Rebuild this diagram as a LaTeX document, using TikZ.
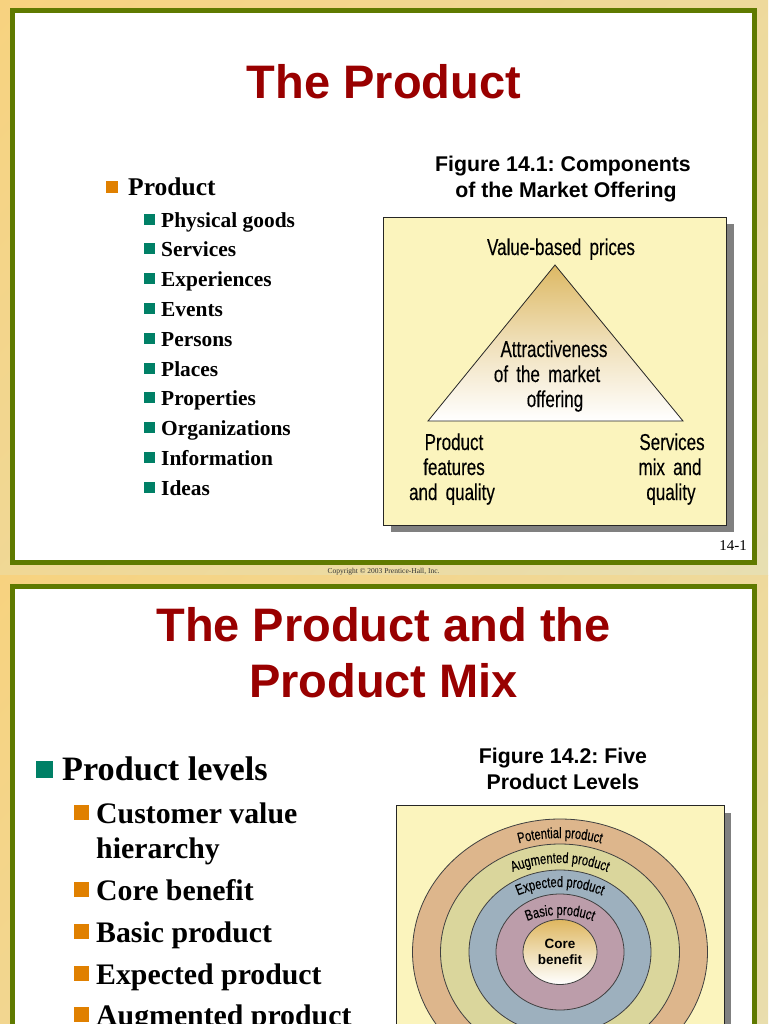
\documentclass[tikz,border=0pt]{standalone}
\usepackage{fontspec}
\usetikzlibrary{decorations.text}
\setmainfont{Liberation Serif}
\newfontfamily\hfont{Liberation Sans}
\newfontfamily\nfont[FakeStretch=0.74,FakeBold=0.25]{Liberation Sans}
\frenchspacing
\definecolor{framegreen}{HTML}{5F7A00}
\definecolor{titlered}{HTML}{990000}
\definecolor{bulorange}{HTML}{E08000}
\definecolor{bulteal}{HTML}{008066}
\definecolor{panel}{HTML}{FBF4BD}
\definecolor{ringa}{HTML}{DDB68C}
\definecolor{ringb}{HTML}{DAD69C}
\definecolor{ringc}{HTML}{9DB0BE}
\definecolor{ringd}{HTML}{BC9DAA}
\definecolor{tanc}{HTML}{DDB964}
\definecolor{HTMLa}{HTML}{FFCC66}
\definecolor{HTMLb}{HTML}{DFE5CB}
\newcommand{\widesp}{\spaceskip=8.2pt\relax}
\tikzset{
  sheet/.style={top color=HTMLa,bottom color=HTMLb,shading angle=45},
  frm/.style={draw=framegreen,line width=5pt,fill=white},
  ttl/.style={font=\hfont\bfseries\fontsize{47}{47}\selectfont,text=titlered,anchor=base,inner sep=0pt},
  capt/.style={font=\hfont\bfseries\fontsize{21.3}{21.3}\selectfont,anchor=base,inner sep=0pt},
  itemA/.style={font=\bfseries\fontsize{25.5}{25.5}\selectfont,anchor=base west,inner sep=0pt},
  itemB/.style={font=\bfseries\fontsize{21.4}{21.4}\selectfont,anchor=base west,inner sep=0pt},
  itemC/.style={font=\bfseries\fontsize{34.2}{34.2}\selectfont,anchor=base west,inner sep=0pt},
  itemD/.style={font=\bfseries\fontsize{29.8}{29.8}\selectfont,anchor=base west,inner sep=0pt},
  lab/.style={font=\nfont\fontsize{23}{23}\selectfont,execute at begin node=\widesp,anchor=base,inner sep=0pt},
  shadowbox/.style={fill=black!50,draw=none},
  panelbox/.style={fill=panel,draw=black!85,line width=.9pt},
  ring/.style={draw=black!75,line width=.8pt},
  ringtext/.style args={#1/#2}{decorate,decoration={text along path,text align=center,
     text={|\nfont\fontsize{#2}{#2}\selectfont|#1}}}
}
\begin{document}
\begin{tikzpicture}[x=1pt,y=-1pt]
\useasboundingbox (0,0) rectangle (768,1024);
\clip (0,0) rectangle (768,1024);
% backgrounds
\begin{scope}
\clip (0,0) rectangle (768,575);
\shade[sheet] (-702,-526) rectangle (1470,1101);
\end{scope}
\begin{scope}
\clip (0,575) rectangle (768,1024);
\shade[sheet] (-702,49) rectangle (1470,1676);
\end{scope}
% frames
\draw[frm] (12.5,10.5) rectangle (754.5,562.5);
\draw[frm] (12.5,586.5) rectangle (754.5,1138);
% ---- slide 1
\node[ttl] (t1) at (384,99) {The Product};
\node[capt] (c1a) at (563,171.5) {Figure 14.1: Components};
\node[capt] (c1b) at (566,197.5) {of the Market Offering};
\fill[bulorange] (106,181) rectangle (118,193);
\node[itemA] (p0) at (128,196) {Product};
\foreach \n/\y/\t in {a/227/Physical goods,b/256/Services,c/286/Experiences,d/316/Events,e/346/Persons,f/376/Places,g/405/Properties,h/435/Organizations,i/465/Information,j/495/Ideas}{
  \fill[bulteal] (144,\y-13) rectangle (155,\y-2);
  \node[itemB] (i\n) at (161,\y) {\t};
}
\fill[shadowbox] (390.5,224.5) rectangle (733.5,532);
\draw[panelbox] (383.5,217.5) rectangle (726.5,525);
\shade[top color=tanc,bottom color=white,middle color=tanc!45!white] (555,265) -- (683,421) -- (428,421) -- cycle;
\draw[black!85,line width=.8pt,line join=miter] (555,265) -- (683,421) -- (428,421) -- cycle;
\node[lab] (v) at (561,255) {Value-based prices};
\node[lab] (a1) at (554,357) {Attractiveness};
\node[lab] (a2) at (547,382) {of the market};
\node[lab] (a3) at (555,407) {offering};
\node[lab] (f1) at (454,450) {Product};
\node[lab] (f2) at (454,475) {features};
\node[lab] (f3) at (452,500) {and quality};
\node[lab] (s1) at (672,450) {Services};
\node[lab] (s2) at (670,475) {mix and};
\node[lab] (s3) at (671,500) {quality};
\node[font=\fontsize{15}{15}\selectfont,anchor=base east,inner sep=0pt] (pg) at (747,550) {14-1};
\node[font=\fontsize{7.5}{7.5}\selectfont,anchor=base,inner sep=0pt,text=black!80] (cr) at (383.5,573) {Copyright © 2003 Prentice-Hall, Inc.};
% ---- slide 2
\node[ttl] (t2a) at (383.5,641) {The Product and the};
\node[ttl] (t2b) at (383.5,697) {Product Mix};
\node[capt] (c2a) at (563,763) {Figure 14.2: Five};
\node[capt] (c2b) at (563,789) {Product Levels};
\fill[bulteal] (36,761) rectangle (53,778);
\node[itemC] (lv) at (62,780) {Product levels};
\foreach \n/\y/\t in {a/823/Customer value,c/900/Core benefit,d/942/Basic product,e/984/Expected product,f/1025/Augmented product}{
  \fill[bulorange] (74,\y-18) rectangle (89,\y-3);
  \node[itemD] (l\n) at (96,\y) {\t};
}
\node[itemD] (lb) at (96,858) {hierarchy};
\fill[shadowbox] (403.5,812.5) rectangle (730.7,1040);
\draw[panelbox] (396.7,805.7) rectangle (724,1040);
\coordinate (ctr) at (560,952);
\draw[ring,fill=ringa] (ctr) ellipse [x radius=147.5pt,y radius=133pt];
\draw[ring,fill=ringb] (ctr) ellipse [x radius=119.5pt,y radius=108pt];
\draw[ring,fill=ringc] (ctr) ellipse [x radius=91pt,y radius=82pt];
\draw[ring,fill=ringd] (ctr) ellipse [x radius=64pt,y radius=58pt];
\shade[top color=tanc!95!orange,bottom color=white,middle color=tanc!50!white] (ctr) ellipse [x radius=37pt,y radius=32.5pt];
\draw[ring] (ctr) ellipse [x radius=37pt,y radius=32.5pt];
\path[ringtext={Potential product/15}] ([shift={(130:135pt and 114pt)}]ctr) arc [start angle=130,end angle=50,x radius=135pt,y radius=114pt];
\path[ringtext={Augmented product/15}] ([shift={(140:108pt and 89pt)}]ctr) arc [start angle=140,end angle=40,x radius=108pt,y radius=89pt];
\path[ringtext={Expected product/15}] ([shift={(145:85pt and 65pt)}]ctr) arc [start angle=145,end angle=35,x radius=85pt,y radius=65pt];
\path[ringtext={Basic product/15}] ([shift={(150:60pt and 37pt)}]ctr) arc [start angle=150,end angle=30,x radius=60pt,y radius=37pt];
\node[font=\hfont\bfseries\fontsize{13.5}{13.5}\selectfont,anchor=base,inner sep=0pt] (cb1) at (560,948) {Core};
\node[font=\hfont\bfseries\fontsize{13.5}{13.5}\selectfont,anchor=base,inner sep=0pt] (cb2) at (560,964) {benefit};
\end{tikzpicture}
\end{document}
